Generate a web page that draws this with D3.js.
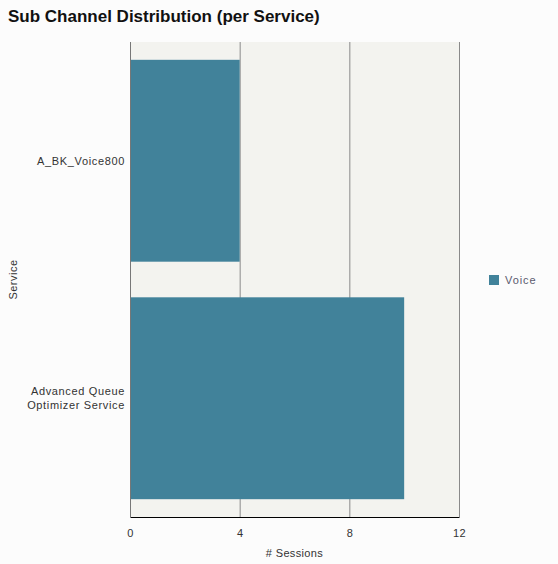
<!DOCTYPE html>
<html>
<head>
<meta charset="utf-8">
<script src="https://cdn.jsdelivr.net/npm/d3@7"></script>
<style>
  body { margin: 0; background: #fcfcfc; font-family: "Liberation Sans", Arial, sans-serif; }
</style>
</head>
<body>
<div id="chart"></div>
<script>
// data
const services = ['A_BK_Voice800', 'Advanced Queue\nOptimizer Service'];
const voice = [4, 10];
const xTicks = [0, 4, 8, 12];
const seriesName = 'Voice';

const width = 558, height = 564;
const margin = {top: 42, right: 99, bottom: 47, left: 130};
const barColor = '#41829a';

const svg = d3.select('#chart')
    .append('svg')
    .attr('width', width)
    .attr('height', height);

svg.append('rect')
    .attr('width', width)
    .attr('height', height)
    .attr('fill', '#fcfcfc');

svg.append('text')
    .attr('x', 8)
    .attr('y', 22)
    .style('font-size', '17px')
    .style('font-weight', 'bold')
    .style('fill', '#111')
    .text('Sub Channel Distribution (per Service)');

let scaleX = d3.scaleLinear().domain([0, 12]).range([margin.left, width - margin.right]);
let scaleY = d3.scaleBand().domain(services).range([margin.top, height - margin.bottom])
    .paddingInner(0.15).paddingOuter(0.075);

// plot background
svg.append('rect')
    .attr('x', margin.left)
    .attr('y', margin.top)
    .attr('width', scaleX(12) - margin.left)
    .attr('height', height - margin.bottom - margin.top)
    .attr('fill', '#f3f3ef');

// vertical gridlines
svg.selectAll('.grid')
    .data(xTicks.slice(1))
    .enter()
    .append('line')
    .attr('x1', d => scaleX(d) + 0.5)
    .attr('x2', d => scaleX(d) + 0.5)
    .attr('y1', margin.top)
    .attr('y2', height - margin.bottom)
    .style('stroke', '#8a8a8a')
    .style('stroke-width', 1);

// bars
svg.selectAll('.bar')
    .data(services)
    .enter()
    .append('rect')
    .attr('x', scaleX(0))
    .attr('y', d => scaleY(d))
    .attr('width', (d, i) => scaleX(voice[i]) - scaleX(0))
    .attr('height', scaleY.bandwidth())
    .attr('fill', barColor);

// left axis line
svg.append('line')
    .attr('x1', margin.left + 0.5)
    .attr('x2', margin.left + 0.5)
    .attr('y1', margin.top)
    .attr('y2', height - margin.bottom)
    .style('stroke', '#777');

// x axis
let xAxis = d3.axisBottom(scaleX).tickValues(xTicks).tickSize(0).tickPadding(12);
let xAxisGroup = svg.append('g')
    .attr('transform', 'translate(0,' + (height - margin.bottom) + ')')
    .call(xAxis);
xAxisGroup.select('.domain').style('stroke', '#000');
xAxisGroup.selectAll('text')
    .style('font-family', '"Liberation Sans", Arial, sans-serif')
    .style('font-size', '11px')
    .style('letter-spacing', '0.3px')
    .style('fill', '#333');

// y labels (multi-line)
services.forEach(s => {
    let lines = s.split('\n');
    let cy = scaleY(s) + scaleY.bandwidth() / 2;
    let t = svg.append('text')
        .attr('x', margin.left - 5)
        .attr('y', cy - (lines.length - 1) * 7 + 4)
        .style('text-anchor', 'end')
        .style('font-size', '11px')
        .style('letter-spacing', '0.65px')
        .style('fill', '#333');
    lines.forEach((l, i) => {
        t.append('tspan')
            .attr('x', margin.left - 5)
            .attr('dy', i === 0 ? 0 : 14)
            .text(l);
    });
});

// axis titles
svg.append('text')
    .attr('x', (margin.left + scaleX(12)) / 2)
    .attr('y', 557)
    .style('text-anchor', 'middle')
    .style('font-size', '11px')
    .style('letter-spacing', '0.35px')
    .style('fill', '#333')
    .text('# Sessions');

svg.append('text')
    .attr('transform', 'translate(17,' + ((margin.top + height - margin.bottom) / 2) + ') rotate(-90)')
    .style('text-anchor', 'middle')
    .style('font-size', '11px')
    .style('letter-spacing', '0.5px')
    .style('fill', '#333')
    .text('Service');

// legend
let legend = svg.append('g').attr('transform', 'translate(489,275)');
legend.append('rect')
    .attr('width', 10)
    .attr('height', 10)
    .attr('fill', barColor);
legend.append('text')
    .attr('x', 16)
    .attr('y', 9)
    .style('font-size', '11px')
    .style('letter-spacing', '0.9px')
    .style('fill', '#5a5a6e')
    .text(seriesName);
</script>
</body>
</html>
